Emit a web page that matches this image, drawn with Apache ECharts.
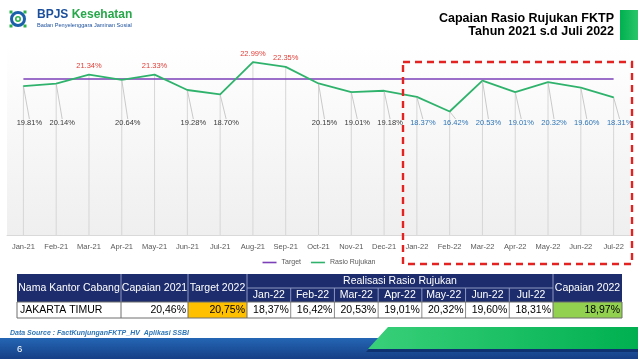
<!DOCTYPE html>
<html><head><meta charset="utf-8">
<script src="https://cdn.jsdelivr.net/npm/echarts@6/dist/echarts.min.js"></script>
<style>html,body{margin:0;padding:0;background:#fff}#c{width:638px;height:359px}</style>
</head><body><div id="c"></div>
<script>
// ---- data ----
const months = ['Jan-21','Feb-21','Mar-21','Apr-21','May-21','Jun-21','Jul-21','Aug-21','Sep-21','Oct-21','Nov-21','Dec-21','Jan-22','Feb-22','Mar-22','Apr-22','May-22','Jun-22','Jul-22'];
const rasioRujukan = [19.81,20.14,21.34,20.64,21.33,19.28,18.70,22.99,22.35,20.15,19.01,19.18,18.37,16.42,20.53,19.01,20.32,19.60,18.31];
const targetValues = [20.75,20.75,20.75,20.75,20.75,20.75,20.75,20.75,20.75,20.75,20.75,20.75,20.75,20.75,20.75,20.75,20.75,20.75,20.75];
const targetRef = 20.75;
const firstYear2022Index = 12;

const tableHeadNama = 'Nama Kantor Cabang';
const tableHeadC21 = 'Capaian 2021';
const tableHeadT22 = 'Target 2022';
const tableHeadReal = 'Realisasi Rasio Rujukan';
const tableHeadC22 = 'Capaian 2022';
const tableBranch = 'JAKARTA TIMUR';
const tableCapaian2021 = '20,46%';
const tableTarget2022 = '20,75%';
const tableMonths = ['Jan-22','Feb-22','Mar-22','Apr-22','May-22','Jun-22','Jul-22'];
const tableRealisasi = ['18,37%','16,42%','20,53%','19,01%','20,32%','19,60%','18,31%'];
const tableCapaian2022 = '18,97%';

// ---- styles ----
const FONT = '"Liberation Sans", Arial, sans-serif';
const RED = '#e0403a', DARK = '#3a3a3a', BLUE = '#2e75b6';
const GREEN = '#2fb36c', PURPLE = '#7b3fb8';

function labelColor(v, i) {
  if (v > targetRef) return RED;
  return i < firstYear2022Index ? DARK : BLUE;
}

const lineData = rasioRujukan.map((v, i) => ({
  value: v,
  label: { color: labelColor(v, i), position: 'top', distance: 4 },
  labelLine: { show: v <= targetRef }
}));

// ---- graphic (logo, title, table, footer) ----
const G = [];
function rect(x, y, w, h, fill, stroke, lw) {
  G.push({ type: 'rect', silent: true, shape: { x, y, width: w, height: h },
    style: { fill: fill || 'none', stroke: stroke || null, lineWidth: lw || 0 } });
}
function line(x1, y1, x2, y2, stroke, lw) {
  G.push({ type: 'line', silent: true, shape: { x1, y1, x2, y2 }, style: { stroke, lineWidth: lw || 1 } });
}
function txt(x, y, t, o) {
  G.push({ type: 'text', silent: true, x, y, style: Object.assign({
    text: t, fill: '#000', fontSize: 10, fontFamily: FONT, align: 'left', verticalAlign: 'middle'
  }, o || {}) });
}

// logo
G.push({ type: 'circle', silent: true, shape: { cx: 18, cy: 19, r: 6.5 }, style: { fill: 'none', stroke: '#1b5faa', lineWidth: 3 } });
G.push({ type: 'circle', silent: true, shape: { cx: 18, cy: 19, r: 2.2 }, style: { fill: 'none', stroke: '#2bb14c', lineWidth: 1.6 } });
[[11, 12], [25, 26], [25, 12], [11, 26]].forEach(p => rect(p[0] - 1.5, p[1] - 1.5, 3, 3, '#2bb14c'));
G.push({ type: 'text', silent: true, x: 37, y: 15, style: {
  text: '{a|BPJS} {b|Kesehatan}', verticalAlign: 'middle', align: 'left',
  rich: {
    a: { fill: '#1b4f9c', fontSize: 12, fontWeight: 'bold', fontFamily: FONT },
    b: { fill: '#27a84a', fontSize: 12, fontWeight: 'bold', fontFamily: FONT }
  } } });
txt(37, 25.5, 'Badan Penyelenggara Jaminan Sosial', { fill: '#1b4f9c', fontSize: 5.6 });

// title
txt(614, 19, 'Capaian Rasio Rujukan FKTP', { align: 'right', fontSize: 12.5, fontWeight: 'bold' });
txt(614, 32, 'Tahun 2021 s.d Juli 2022', { align: 'right', fontSize: 12.5, fontWeight: 'bold' });
G.push({ type: 'rect', silent: true, shape: { x: 620, y: 10, width: 18, height: 30 },
  style: { fill: new echarts.graphic.LinearGradient(0, 0, 1, 0, [{ offset: 0, color: '#00b050' }, { offset: 1, color: '#29c66a' }]) } });

// red dashed highlight box
G.push({ type: 'rect', silent: true, z: 100, shape: { x: 403, y: 62, width: 229, height: 202 },
  style: { fill: 'none', stroke: '#e32222', lineWidth: 2.4, lineDash: [7, 5] } });

// table
const mW = (553 - 247) / tableMonths.length;
const y0 = 274, y1 = 288, y2 = 302, y3 = 318;
const NAVY = '#1d2c6c', HB = '#8b97c2';
rect(17, y0, 605, y2 - y0, NAVY);
rect(17, y2, 605, y3 - y2, '#ffffff');
rect(188, y2, 59, y3 - y2, '#ffc000');
rect(553, y2, 69, y3 - y2, '#92d050');
// header separators
[121, 188, 247, 553].forEach(x => line(x, y0, x, y2, HB, 1));
line(247, y1, 553, y1, HB, 1);
tableMonths.forEach((m, i) => { if (i > 0) line(247 + i * mW, y1, 247 + i * mW, y2, HB, 1); });
// data row borders
[17, 121, 188, 247, 553, 622].forEach(x => line(x, y2, x, y3, '#6e6e6e', 1));
tableMonths.forEach((m, i) => { if (i > 0) line(247 + i * mW, y2, 247 + i * mW, y3, '#8c8c8c', 1); });
line(17, y3, 622, y3, '#6e6e6e', 1);
line(17, y2, 622, y2, '#6e6e6e', 1);
// header text
const hc = (y0 + y2) / 2;
const HF = { fill: '#fff', align: 'center', fontSize: 10.5 };
txt((17 + 121) / 2, hc, tableHeadNama, HF);
txt((121 + 188) / 2, hc, tableHeadC21, HF);
txt((188 + 247) / 2, hc, tableHeadT22, HF);
txt((247 + 553) / 2, (y0 + y1) / 2 + 0.5, tableHeadReal, HF);
tableMonths.forEach((m, i) => txt(247 + (i + 0.5) * mW, (y1 + y2) / 2 + 0.5, m, HF));
txt((553 + 622) / 2, hc, tableHeadC22, HF);
// data text
const dc = (y2 + y3) / 2 + 0.5;
txt(20, dc, tableBranch, { fontSize: 10.5 });
txt(186, dc, tableCapaian2021, { align: 'right', fontSize: 10.5 });
txt(245, dc, tableTarget2022, { align: 'right', fontSize: 10.5 });
tableRealisasi.forEach((v, i) => txt(247 + (i + 1) * mW - 2, dc, v, { align: 'right', fontSize: 10.5 }));
txt(620, dc, tableCapaian2022, { align: 'right', fontSize: 10.5 });

// footer
txt(10, 333, 'Data Source : FactKunjunganFKTP_HV  Aplikasi SSBI', { fill: '#2e75b6', fontSize: 7, fontStyle: 'italic', fontWeight: 'bold' });
G.push({ type: 'rect', silent: true, shape: { x: 0, y: 338, width: 638, height: 21 },
  style: { fill: new echarts.graphic.LinearGradient(0, 0, 0, 1, [{ offset: 0, color: '#2466b4' }, { offset: 1, color: '#163f86' }]) } });
G.push({ type: 'polygon', silent: true, shape: { points: [[366, 352], [386, 330], [638, 330], [638, 352]] },
  style: { fill: '#0f3370' } });
G.push({ type: 'polygon', silent: true, shape: { points: [[368, 349], [388, 327], [638, 327], [638, 349]] },
  style: { fill: new echarts.graphic.LinearGradient(0, 0, 1, 0, [{ offset: 0, color: '#39d07a' }, { offset: 1, color: '#00b050' }]) } });
txt(17, 349, '6', { fill: '#ffffff', fontSize: 9.5 });

// ---- chart ----
const chart = echarts.init(document.getElementById('c'), null, { renderer: 'canvas' });
chart.setOption({
  animation: false,
  backgroundColor: '#ffffff',
  grid: {
    left: 7, right: 8, top: 47, bottom: 124, show: true, borderWidth: 0,
    backgroundColor: new echarts.graphic.LinearGradient(0, 0, 0, 1, [{ offset: 0, color: '#ffffff' }, { offset: 1, color: '#efefef' }])
  },
  legend: {
    data: ['Target', 'Rasio Rujukan'], top: 254, left: 'center',
    icon: 'rect', itemWidth: 14, itemHeight: 1.6, itemGap: 10,
    textStyle: { fontSize: 7, color: '#595959', fontFamily: FONT }
  },
  xAxis: {
    type: 'category', data: months, boundaryGap: true,
    axisLine: { lineStyle: { color: '#d9d9d9' } },
    axisTick: { show: false },
    axisLabel: { fontSize: 7.5, color: '#595959', fontFamily: FONT, margin: 8, interval: 0 }
  },
  yAxis: { type: 'value', min: 0, max: 25, show: false, splitLine: { show: false } },
  graphic: G,
  series: [
    { name: 'drop', type: 'bar', data: rasioRujukan, barWidth: 1, silent: true,
      itemStyle: { color: '#d6d6d6' }, z: 1 },
    { name: 'Target', type: 'line', data: targetValues, symbol: 'none',
      lineStyle: { color: PURPLE, width: 1.6 }, itemStyle: { color: PURPLE }, z: 3 },
    { name: 'Rasio Rujukan', type: 'line', data: lineData, symbol: 'circle', symbolSize: 1, showSymbol: true,
      lineStyle: { color: GREEN, width: 1.8 }, itemStyle: { color: GREEN }, z: 4,
      label: { show: true, fontSize: 7.5, fontFamily: FONT, formatter: p => p.value.toFixed(2) + '%' },
      labelLine: { show: true, lineStyle: { color: '#bdbdbd', width: 0.8 } },
      labelLayout: function (p) {
        const v = rasioRujukan[p.dataIndex];
        if (v > targetRef) return {};
        return { x: p.rect.x + p.rect.width / 2 + 6, y: 123, align: 'center', verticalAlign: 'middle' };
      }
    }
  ]
});
</script>
</body></html>
